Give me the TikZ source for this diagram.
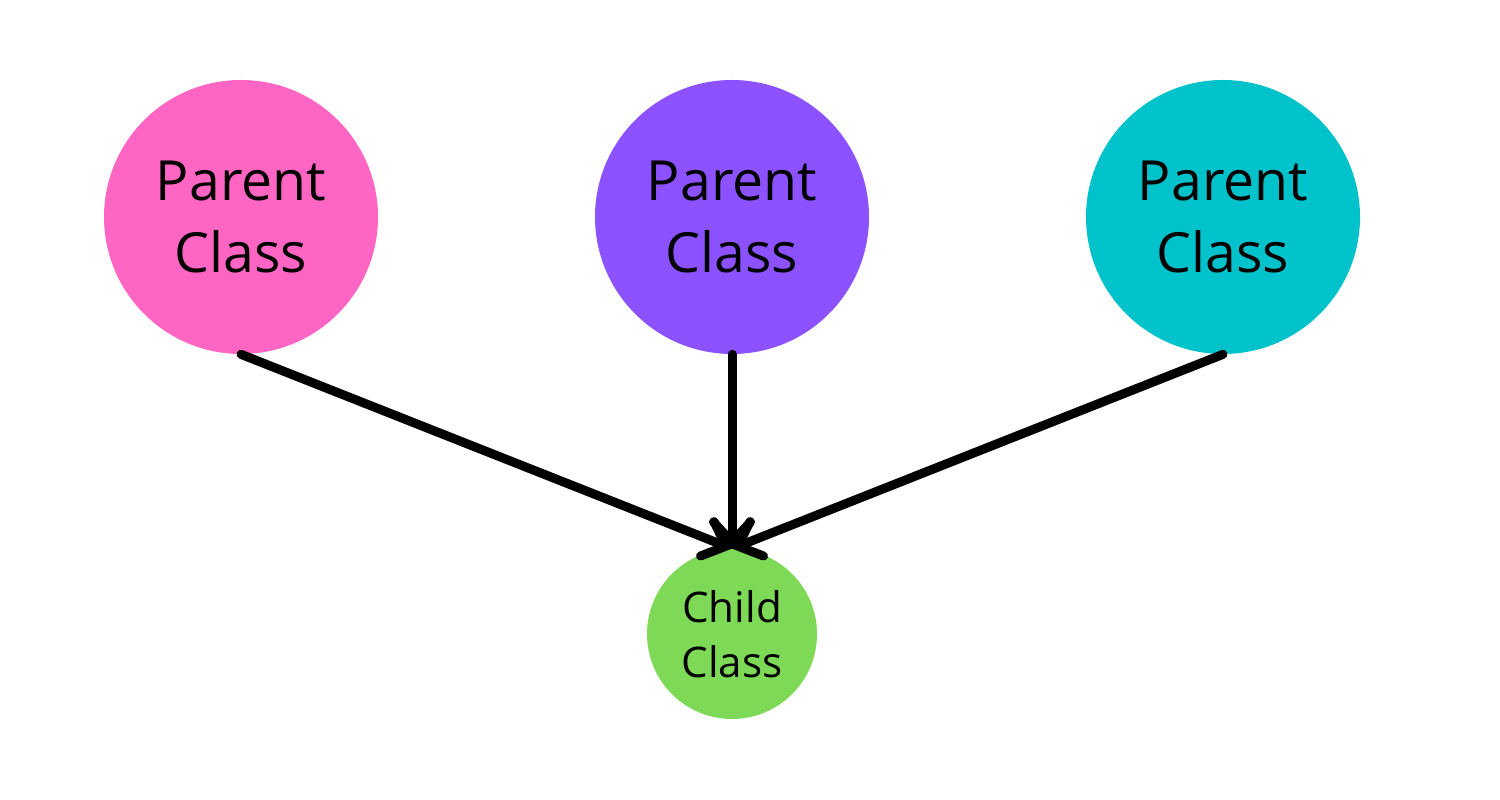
\documentclass[tikz,border=0pt]{standalone}
\usepackage{fontspec}
\setmainfont{Open Sans}
\usetikzlibrary{arrows.meta}
\definecolor{pinkc}{HTML}{FF66C4}
\definecolor{purplec}{HTML}{8C52FF}
\definecolor{cyanc}{HTML}{00C2CB}
\definecolor{greenc}{HTML}{7ED957}

\begin{document}
\begin{tikzpicture}[node distance=9.82cm]
\tikzstyle{parent} = [circle, minimum size=5.48cm, inner sep=0pt, align=center, font=\fontsize{31.5}{41.5}\selectfont]
\tikzstyle{child} = [circle, minimum size=3.4cm, inner sep=0pt, align=center, font=\fontsize{24}{31}\selectfont]
\tikzstyle{arr} = [line width=0.18cm, line cap=round, -{Straight Barb[length=0.4cm,width=0.74cm,line cap=round]}]
\useasboundingbox (0,0) rectangle (30,16);
\node (P1) [parent, fill=pinkc] at (4.82,11.66) {Parent\\Class};
\node (P2) [parent, fill=purplec, right of=P1] {Parent\\Class};
\node (P3) [parent, fill=cyanc, right of=P2] {Parent\\Class};
\node (C) [child, fill=greenc, below of=P2, yshift=1.48cm] {Child\\Class};
\draw[arr] (P1.south) -- (C.north);
\draw[arr] (P2.south) -- (C.north);
\draw[arr] (P3.south) -- (C.north);

\end{tikzpicture}
\end{document}
